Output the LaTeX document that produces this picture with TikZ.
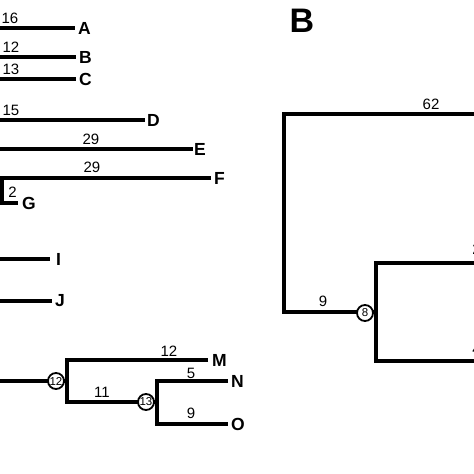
\documentclass[tikz,border=0pt]{standalone}
\usepackage{fontspec}
\setmainfont{Liberation Sans}
\usetikzlibrary{positioning}

\begin{document}
\begin{tikzpicture}[
    x=1pt, y=-1pt,
    branch/.style={line width=3.2pt, line join=miter},
    leaf/.style={font=\fontsize{17.5}{19}\selectfont\bfseries, inner sep=1pt, anchor=west},
    len/.style={font=\fontsize{15}{17}\selectfont, inner sep=0pt},
    boot/.style={circle, draw, line width=1.8pt, fill=white, minimum size=16pt, inner sep=0pt, font=\fontsize{11.5}{13}\selectfont}
  ]
  \useasboundingbox (0,0) rectangle (474,474);

  % panel A, tips cut at the left edge
  \coordinate (rA) at (-10,28);  \coordinate (tA) at (75,28);
  \coordinate (rB) at (-10,57);  \coordinate (tB) at (76,57);
  \coordinate (rC) at (-10,79);  \coordinate (tC) at (76,79);
  \coordinate (rD) at (-10,120); \coordinate (tD) at (145,120);
  \coordinate (rE) at (-10,149); \coordinate (tE) at (193,149);
  \coordinate (tF) at (211,178); \coordinate (tG) at (18,203);
  \coordinate (uFG) at (2,190);
  \coordinate (rI) at (-10,259); \coordinate (tI) at (50,259);
  \coordinate (rJ) at (-10,301); \coordinate (tJ) at (52,301);
  \coordinate (r12) at (-10,381); \coordinate (u12) at (67,381);
  \coordinate (u13) at (157,402);
  \coordinate (tM) at (208,360); \coordinate (tN) at (228,381); \coordinate (tO) at (228,424);

  \draw[branch] (rA) -- (tA);
  \draw[branch] (rB) -- (tB);
  \draw[branch] (rC) -- (tC);
  \draw[branch] (rD) -- (tD);
  \draw[branch] (rE) -- (tE);
  \draw[branch] (tF) -| (uFG) |- (tG);
  \draw[branch] (rI) -- (tI);
  \draw[branch] (rJ) -- (tJ);
  \draw[branch] (r12) -- (u12);
  \draw[branch] (tM) -| (u12) |- (u13);
  \draw[branch] (tN) -| (u13) |- (tO);

  \node[leaf, right=2pt of tA] (A) {A};
  \node[leaf, right=2pt of tB] (B) {B};
  \node[leaf, right=2pt of tC] (C) {C};
  \node[leaf, right=1pt of tD] (D) {D};
  \node[leaf, right=0pt of tE] (E) {E};
  \node[leaf, right=2pt of tF] (F) {F};
  \node[leaf, right=3pt of tG] (G) {G};
  \node[leaf, right=5pt of tI] (I) {I};
  \node[leaf, right=2pt of tJ] (J) {J};
  \node[leaf, right=3pt of tM] (M) {M};
  \node[leaf, right=2pt of tN] (N) {N};
  \node[leaf, right=2pt of tO] (O) {O};

  \node[len] (l16) at (10,18) {16};
  \node[len] (l12b) at (11,47) {12};
  \node[len] (l13) at (11,69.5) {13};
  \node[len] (l15) at (11,110) {15};
  \node[len] (l29e) at (91,139) {29};
  \node[len] (l29f) at (92,167) {29};
  \node[len] (l2g) at (12.5,192) {2};
  \node[len] (l12m) at (169,351) {12};
  \node[len] (l5) at (191,373) {5};
  \node[len] (l11) at (102,392) {11};
  \node[len] (l9o) at (191,413) {9};

  \node[boot] (b12) at (56,381) {12};
  \node[boot] (b13) at (146,402) {13};

  % panel B, cut at the right edge
  \node[font=\fontsize{34}{36}\selectfont\bfseries, inner sep=0pt] (panelB) at (302,21) {B};
  \coordinate (t62) at (484,114); \coordinate (uR) at (284,213);
  \coordinate (u8) at (376,312);
  \coordinate (tR2) at (484,263); \coordinate (tR4) at (484,361);

  \draw[branch] (t62) -| (uR) |- (u8);
  \draw[branch] (tR2) -| (u8) |- (tR4);

  \node[len] (l62) at (431,104) {62};
  \node[len] (l9) at (323,301) {9};
  \node[len] (l2r) at (476.5,249) {2};
  \node[len] (l4r) at (476.5,349) {4};
  \node[boot] (b8) at (365,313) {8};
\end{tikzpicture}
\end{document}
